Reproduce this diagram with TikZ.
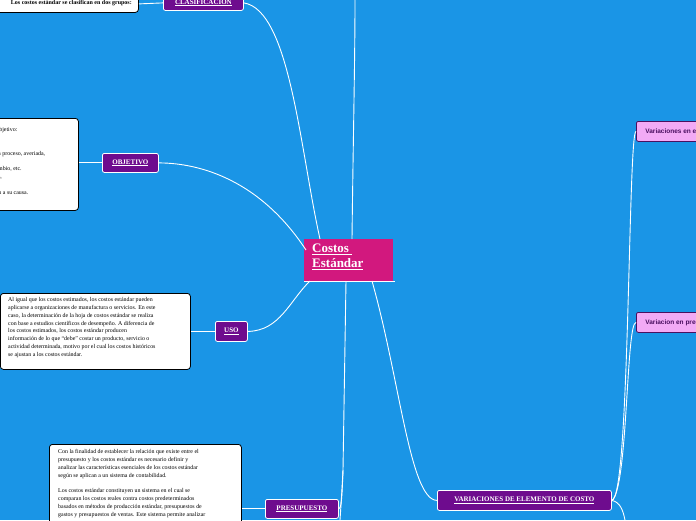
\documentclass[tikz,border=0pt]{standalone}
\usepackage{fontspec}
\setmainfont{Liberation Serif}
\setsansfont{Liberation Sans}
\newcommand{\ul}[1]{$\underline{\hbox{#1}}$}
\definecolor{bg}{HTML}{1A95E6}
\definecolor{purp}{HTML}{6E0C8E}
\definecolor{mag}{HTML}{D2187E}
\definecolor{pink}{HTML}{F2AAF5}
\definecolor{dpurp}{HTML}{4A1060}
\begin{document}
\begin{tikzpicture}[x=1pt,y=-1pt,
  topic/.style={draw=white,line width=0.8pt,fill=purp,rounded corners=2pt,text=white,font=\bfseries\fontsize{7}{8}\selectfont,inner sep=0pt,anchor=north west},
  sub/.style={draw=dpurp,line width=0.8pt,fill=pink,rounded corners=2pt,text=dpurp,font=\sffamily\bfseries\fontsize{6.5}{8}\selectfont,inner sep=0pt,anchor=north west,minimum width=70pt},
  note/.style={draw=black,line width=0.8pt,fill=white,rounded corners=3pt,anchor=north west,inner sep=0pt},
  body/.style={font=\fontsize{5.9}{7.9}\selectfont,align=left,anchor=north west,inner sep=0pt},
  conn/.style={draw=white,line width=0.9pt}]
\useasboundingbox (0,0) rectangle (696,520);
\fill[bg] (0,0) rectangle (696,520);
\clip (0,0) rectangle (696,520);
% central
\node[fill=mag,minimum width=89pt,minimum height=42pt,anchor=north west,inner sep=0pt] (c) at (304,239) {};
\node[anchor=north west,text=white,font=\bfseries\fontsize{13}{15}\selectfont,align=left,inner sep=0pt] (ct) at (312,244) {\ul{Costos }\\\ul{Estándar}};
\draw[white,line width=0.8pt] (304,281.5) -- (395,281.5);
% topics
\node[topic,minimum width=80pt,minimum height=15pt] (cla) at (163,-5) {\raisebox{-2pt}{\ul{CLASIFICACION}}};
\node[topic,minimum width=56pt,minimum height=19pt] (obj) at (102,153) {\ul{OBJETIVO}};
\node[topic,minimum width=32pt,minimum height=20pt] (uso) at (215,321) {\ul{USO}};
\node[topic,minimum width=73pt,minimum height=19pt] (pre) at (265,499) {\ul{PRESUPUESTO}};
\node[topic,minimum width=174pt,minimum height=20pt] (var) at (437,490) {\ul{VARIACIONES DE ELEMENTO DE COSTO}};
\node[sub,minimum height=20pt] (v1) at (636,121) {\hspace*{9pt}Variaciones en el costo\hspace*{9pt}};
\node[sub,minimum height=20pt] (v2) at (636,312) {\hspace*{9pt}Variacion en precio\hspace*{9pt}};
% notes
\node[note,minimum width=143pt,minimum height=17pt] (n0) at (-5,-5) {};
\node[anchor=east,inner sep=0pt,font=\bfseries\fontsize{6}{7}\selectfont] at (132,3) {Los costos estándar se clasifican en dos grupos:};
\node[note,minimum width=88pt,minimum height=92pt] (n1) at (-10,118) {};
\node[body] at (-82,127) {Los costos estándar tienen como objetivo:\\Determinar el costo unitario\\\\Valuar la producción terminada, en proceso, averiada,\\\\Tomar decisiones de inversión, cambio, etc.\\Controlar los costos de producción,\\\\Analizar las variaciones en función a su causa.};
\node[note,minimum width=190pt,minimum height=76pt] (n2) at (0,293) {};
\node[body] at (8,297) {Al igual que los costos estimados, los costos estándar pueden\\aplicarse a organizaciones de manufactura o servicios. En este\\caso, la determinación de la hoja de costos estándar se realiza\\con base a estudios científicos de desempeño. A diferencia de\\los costos estimados, los costos estándar producen\\información de lo que ``debe'' costar un producto, servicio o\\actividad determinada, motivo por el cual los costos históricos\\se ajustan a los costos estándar.};
\node[note,minimum width=192pt,minimum height=90pt] (n3) at (49,444) {};
\node[body] at (58,449) {Con la finalidad de establecer la relación que existe entre el\\presupuesto y los costos estándar es necesario definir y\\analizar las características esenciales de los costos estándar\\según se aplican a un sistema de contabilidad.\\\\Los costos estándar constituyen un sistema en el cual se\\comparan los costos reales contra costos predeterminados\\basados en métodos de producción estándar, presupuestos de\\gastos y presupuestos de ventas. Este sistema permite analizar};
% connectors
\coordinate (top) at (355,0);
\coordinate (bot) at (340,520);
\coordinate (vdown) at (625,520);
\draw[conn] (352,239) .. controls (353,150) and (355,60) .. (top);
\draw[conn] (320,239) .. controls (300,150) and (290,10) .. (cla.east);
\draw[conn] (306,250) .. controls (260,180) and (200,163) .. (obj.east);
\draw[conn] (310,281) .. controls (290,300) and (280,331) .. (uso.east);
\draw[conn] (346,281) -- (343,470) .. controls (342,490) and (341,505) .. (bot);
\draw[conn] (343,470) .. controls (342,500) and (341,509) .. (pre.east);
\draw[conn] (372,281) .. controls (400,380) and (410,500) .. (var.west);
\draw[conn] (var.east) .. controls (630,500) and (628,131) .. (v1.west);
\draw[conn] (var.east) .. controls (628,490) and (626,322) .. (v2.west);
\draw[conn] (var.east) .. controls (620,502) and (623,510) .. (vdown);
\draw[conn] (cla.west) -- (n0.east);
\draw[conn] (obj.west) -- (n1.east |- obj.west);
\draw[conn] (uso.west) -- (n2.east |- uso.west);
\draw[conn] (pre.west) -- (n3.east |- pre.west);
\end{tikzpicture}
\end{document}
